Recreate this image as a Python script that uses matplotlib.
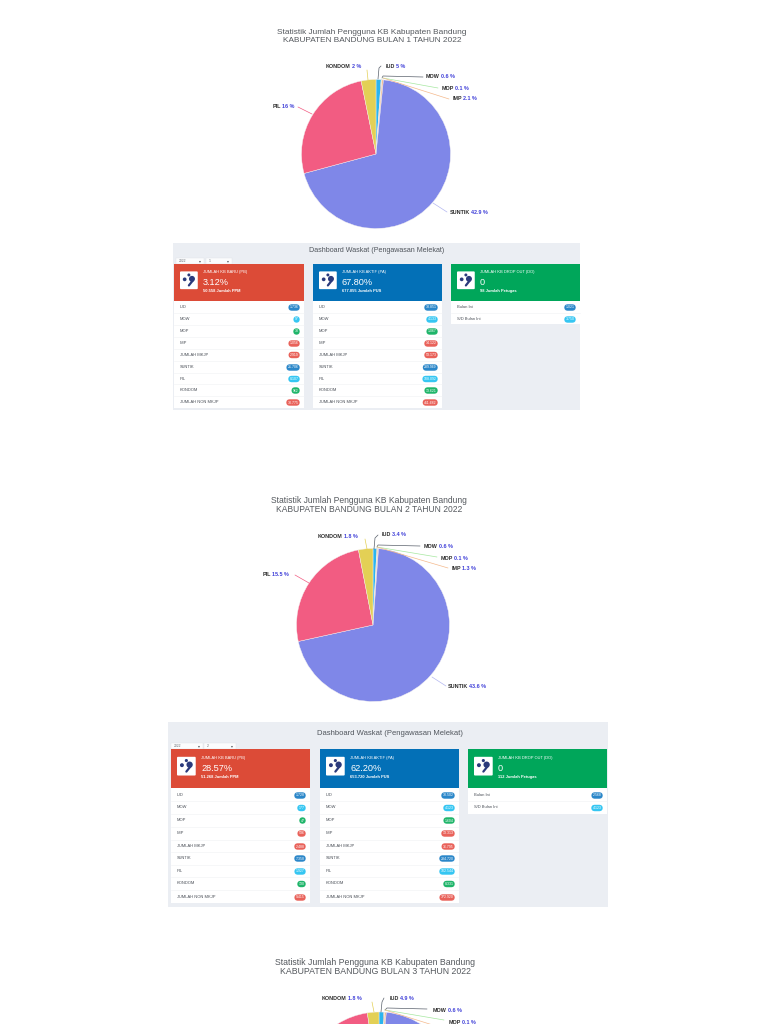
"""Three monthly KB user pies, each with its Dashboard Waskat panel below."""
import matplotlib
matplotlib.use("Agg")

import matplotlib.pyplot as plt
from matplotlib.patches import Circle, FancyBboxPatch, Rectangle

plt.rcParams["font.family"] = ["Liberation Sans", "DejaVu Sans"]

METHODS = ["IUD", "MOW", "MOP", "IMP", "SUNTIK", "PIL", "KONDOM"]
SLICE_COLORS = ["#2bb5ee", "#59606b", "#a6e8a0", "#f4b98c", "#7f87e8", "#f25c82", "#e3d055"]

# slice shares read off the circles, the printed % labels do not add up to 100
shares_1 = [1.1, 0.15, 0.05, 0.3, 69.2, 26.0, 3.2]
shares_2 = [0.8, 0.1, 0.05, 0.2, 70.4, 25.4, 3.05]
shares_3 = [1.0, 0.15, 0.05, 0.3, 70.1, 26.0, 2.4]

labels_1 = ["5", "0.6", "0.1", "2.1", "42.9", "16", "2"]
labels_2 = ["3.4", "0.6", "0.1", "1.3", "43.6", "15.5", "1.8"]
labels_3 = ["4.9", "0.6", "0.1", "1.8"]
methods_3 = ["IUD", "MOW", "MOP", "KONDOM"]

ROWS = ["IUD", "MOW", "MOP", "IMP", "JUMLAH MKJP", "SUNTIK", "PIL", "KONDOM", "JUMLAH NON MKJP"]
ROW_COLORS = ["#2b87c9", "#35c6f2", "#1fb56a", "#e9625a", "#e9625a",
              "#2b87c9", "#35c6f2", "#1fb56a", "#e9625a"]
DO_ROWS = ["Bulan Ini", "S/D Bulan Ini"]

baru_1 = ["1.736", "97", "30", "1.056", "2.919", "21.706", "8.107", "962", "30.775"]
aktif_1 = ["33.851", "4.133", "1.067", "14.122", "53.173", "289.969", "108.092", "13.621", "411.682"]
do_1 = ["1.021", "3.750"]
baru_2 = ["1.728", "177", "47", "536", "2.488", "7.358", "1.927", "130", "9.415"]
aktif_2 = ["30.502", "4.123", "1.604", "13.313", "36.795", "284.720", "102.544", "8.331", "372.920"]
do_2 = ["2.568", "4.123"]


def text_at(ax, x, y, s, **kw):
    kw.setdefault("va", "center")
    return ax.text(x, y, s, **kw)


def pie_label(ax, x, y, name, value):
    t = text_at(ax, x, y, name, fontsize=3.9, fontweight="bold", color="#2b2b2b", ha="left")
    ax.annotate(f"{value} %", xy=(1, 0), xycoords=t, xytext=(0.6, 0),
                textcoords="offset points", fontsize=3.9, fontweight="bold",
                color="#3f3fd8", ha="left", va="bottom")


def draw_pie(ax, shares, cx, cy, r):
    # y axis is inverted, so this runs clockwise from 12 o'clock on screen
    ax.pie(shares, colors=SLICE_COLORS, center=(cx, cy), radius=r, startangle=270,
           counterclock=True, frame=True,
           wedgeprops=dict(edgecolor="#f3f0f0", linewidth=0.3))


def draw_logo(ax, x, y, size):
    ax.add_patch(FancyBboxPatch((x, y), size, size, boxstyle="round,pad=0,rounding_size=1",
                                facecolor="white", edgecolor="none"))
    navy = "#2b3a7c"
    u = size / 19
    ax.add_patch(Circle((x + 5 * u, y + 8.5 * u), 2.0 * u, color=navy, lw=0))
    ax.add_patch(Circle((x + 9.5 * u, y + 3.8 * u), 1.6 * u, color=navy, lw=0))
    ax.add_patch(Circle((x + 12.8 * u, y + 8 * u), 3.2 * u, color=navy, lw=0))
    ax.plot([x + 13.5 * u, x + 9.5 * u], [y + 10 * u, y + 15 * u], color=navy, lw=1.6,
            solid_capstyle="round")


def draw_card(ax, xr, yr, color, title, pct, sub):
    x0, x1 = xr
    y0, y1 = yr
    ax.add_patch(Rectangle((x0, y0), x1 - x0, y1 - y0, facecolor=color, edgecolor="none"))
    h = y1 - y0
    draw_logo(ax, x0 + 6, y0 + 0.2 * h, 0.48 * h)
    tx = x0 + 0.72 * h + 2
    text_at(ax, tx, y0 + 0.22 * h, title, color="white", fontsize=2.9)
    text_at(ax, tx, y0 + 0.5 * h, pct, color="white", fontsize=6.6)
    text_at(ax, tx, y0 + 0.72 * h, sub, color="white", fontsize=2.9, fontweight="bold")


def draw_rows(ax, xr, y0, y1, rows, values, colors, ys):
    x0, x1 = xr
    ax.add_patch(Rectangle((x0, y0), x1 - x0, y1 - y0, facecolor="white", edgecolor="none"))
    for i, (row, val, col, y) in enumerate(zip(rows, values, colors, ys)):
        text_at(ax, x0 + 6, y, row, color="#4a4f57", fontsize=2.9)
        text_at(ax, x1 - 5.5, y + 0.5, val, color="white", fontsize=2.5, ha="right",
                bbox=dict(boxstyle="round,pad=0.35,rounding_size=1.0", facecolor=col,
                          edgecolor="none"))
        if i < len(rows) - 1:
            sep = (y + ys[i + 1]) / 2
            ax.plot([x0, x1], [sep, sep], color="#f0f1f4", lw=0.4)


def draw_selects(ax, selects, month, y):
    for (sx0, sx1), s in zip(selects, ["2022", month]):
        ax.add_patch(Rectangle((sx0, y - 6), sx1 - sx0, 5.5, facecolor="#fbfcfd",
                               edgecolor="#dfe2e7", lw=0.3))
        text_at(ax, sx0 + 3, y - 3.2, s, color="#666b72", fontsize=2.4)
        text_at(ax, sx1 - 3, y - 3.4, "▾", color="#555a60", fontsize=2.8, ha="right")


def leader(ax, xs, ys, color):
    ax.plot(xs, ys, color=color, lw=0.5, solid_capstyle="round")


fig = plt.figure(figsize=(7.68, 10.24), dpi=100, facecolor="white")
ax = fig.add_axes([0, 0, 1, 1])
ax.set_xlim(0, 768)
ax.set_ylim(1024, 0)  # pixel coordinates, y going down like the screenshot

RED, BLUE, GREEN = "#dc4b37", "#0370b7", "#00a65a"
TITLE_GREY = "#55595e"
TITLE = "Statistik Jumlah Pengguna KB Kabupaten Bandung"
PANEL_TITLE = "Dashboard Waskat (Pengawasan Melekat)"

# ---- bulan 1
text_at(ax, 372, 32, TITLE, color=TITLE_GREY, fontsize=5.95, ha="center")
text_at(ax, 372, 41, "KABUPATEN BANDUNG BULAN 1 TAHUN 2022", color=TITLE_GREY,
        fontsize=5.95, ha="center")
draw_pie(ax, shares_1, 376, 154, 74.5)
leader(ax, [378, 379, 381], [79, 68, 66], SLICE_COLORS[1])
leader(ax, [382, 383, 423], [78, 76, 77], SLICE_COLORS[1])
leader(ax, [383, 438], [78, 88], SLICE_COLORS[2])
leader(ax, [383, 449], [78, 99], SLICE_COLORS[3])
leader(ax, [433, 447], [203, 212], "#b3b7f0")
leader(ax, [312, 298], [114, 107], SLICE_COLORS[5])
leader(ax, [368, 367], [80, 70], SLICE_COLORS[6])
for (x, y), name, val in zip([(386, 66), (426, 77), (442, 88), (453, 99), (450, 212),
                              (273, 107), (326, 67)], METHODS, labels_1):
    pie_label(ax, x, y, name, val)

ax.add_patch(Rectangle((173, 243), 407, 167, facecolor="#ebeef3", edgecolor="none"))
text_at(ax, 377, 250.5, PANEL_TITLE, color="#50555c", fontsize=5.15, ha="center")
draw_selects(ax, [(176, 204), (206, 232)], "1", 264)
ys_1 = [307, 319, 331, 343, 354.5, 367, 378.5, 390, 402]
draw_card(ax, (174, 304), (264, 301), RED, "JUMLAH KB BARU (PB)", "3.12%", "50.558 Jumlah PPM")
draw_card(ax, (313, 442), (264, 301), BLUE, "JUMLAH KB AKTIF (PA)", "67.80%", "677.055 Jumlah PUS")
draw_card(ax, (451, 580), (264, 301), GREEN, "JUMLAH KB DROP OUT (DO)", "0", "98 Jumlah Petugas")
draw_rows(ax, (174, 304), 301, 408, ROWS, baru_1, ROW_COLORS, ys_1)
draw_rows(ax, (313, 442), 301, 408, ROWS, aktif_1, ROW_COLORS, ys_1)
draw_rows(ax, (451, 580), 301, 324, DO_ROWS, do_1, ROW_COLORS[:2], ys_1[:2])

# ---- bulan 2
text_at(ax, 369, 500.5, TITLE, color=TITLE_GREY, fontsize=6.15, ha="center")
text_at(ax, 369, 509.5, "KABUPATEN BANDUNG BULAN 2 TAHUN 2022", color=TITLE_GREY,
        fontsize=6.15, ha="center")
draw_pie(ax, shares_2, 373, 625, 76.5)
leader(ax, [374, 375, 378], [549, 538, 535], SLICE_COLORS[1])
leader(ax, [377, 378, 420], [547, 545, 546], SLICE_COLORS[1])
leader(ax, [377, 437], [547, 557], SLICE_COLORS[2])
leader(ax, [377, 448], [547, 568], SLICE_COLORS[3])
leader(ax, [432, 446], [677, 686], "#b3b7f0")
leader(ax, [309, 295], [583, 575], SLICE_COLORS[5])
leader(ax, [367, 365], [549, 539], SLICE_COLORS[6])
for (x, y), name, val in zip([(382, 535), (424, 547), (441, 558), (452, 569), (448, 687),
                              (263, 575), (318, 536)], METHODS, labels_2):
    pie_label(ax, x, y, name, val)

ax.add_patch(Rectangle((168, 722), 440, 185, facecolor="#ebeef3", edgecolor="none"))
text_at(ax, 390, 733.5, PANEL_TITLE, color="#50555c", fontsize=5.5, ha="center")
draw_selects(ax, [(171, 203), (204, 236)], "2", 749)
ys_2 = [795, 807.5, 820, 833, 846, 858, 871, 883.5, 897]
draw_card(ax, (171, 310), (749, 788), RED, "JUMLAH KB BARU (PB)", "28.57%", "51.268 Jumlah PPM")
draw_card(ax, (320, 459), (749, 788), BLUE, "JUMLAH KB AKTIF (PA)", "62.20%", "653.720 Jumlah PUS")
draw_card(ax, (468, 607), (749, 788), GREEN, "JUMLAH KB DROP OUT (DO)", "0", "112 Jumlah Petugas")
draw_rows(ax, (171, 310), 788, 903, ROWS, baru_2, ROW_COLORS, ys_2)
draw_rows(ax, (320, 459), 788, 903, ROWS, aktif_2, ROW_COLORS, ys_2)
draw_rows(ax, (468, 607), 788, 814, DO_ROWS, do_2, ROW_COLORS[:2], ys_2[:2])

# ---- bulan 3, cut off by the page edge
text_at(ax, 375, 962.5, TITLE, color=TITLE_GREY, fontsize=6.35, ha="center")
text_at(ax, 375, 971.5, "KABUPATEN BANDUNG BULAN 3 TAHUN 2022", color=TITLE_GREY,
        fontsize=6.35, ha="center")
draw_pie(ax, shares_3, 379, 1090, 78)
leader(ax, [381, 382, 384], [1012, 1002, 998], SLICE_COLORS[1])
leader(ax, [385, 387, 427], [1010, 1008, 1009], SLICE_COLORS[1])
leader(ax, [385, 444], [1010, 1020], SLICE_COLORS[2])
leader(ax, [385, 455], [1010, 1032], SLICE_COLORS[3])
leader(ax, [374, 372], [1012, 1002], SLICE_COLORS[6])
for (x, y), name, val in zip([(390, 998), (433, 1010), (449, 1022), (322, 998)],
                             methods_3, labels_3):
    pie_label(ax, x, y, name, val)

ax.set_xlim(0, 768)
ax.set_ylim(1024, 0)
ax.axis("off")
fig.savefig("out.png", dpi=100, facecolor="white")
